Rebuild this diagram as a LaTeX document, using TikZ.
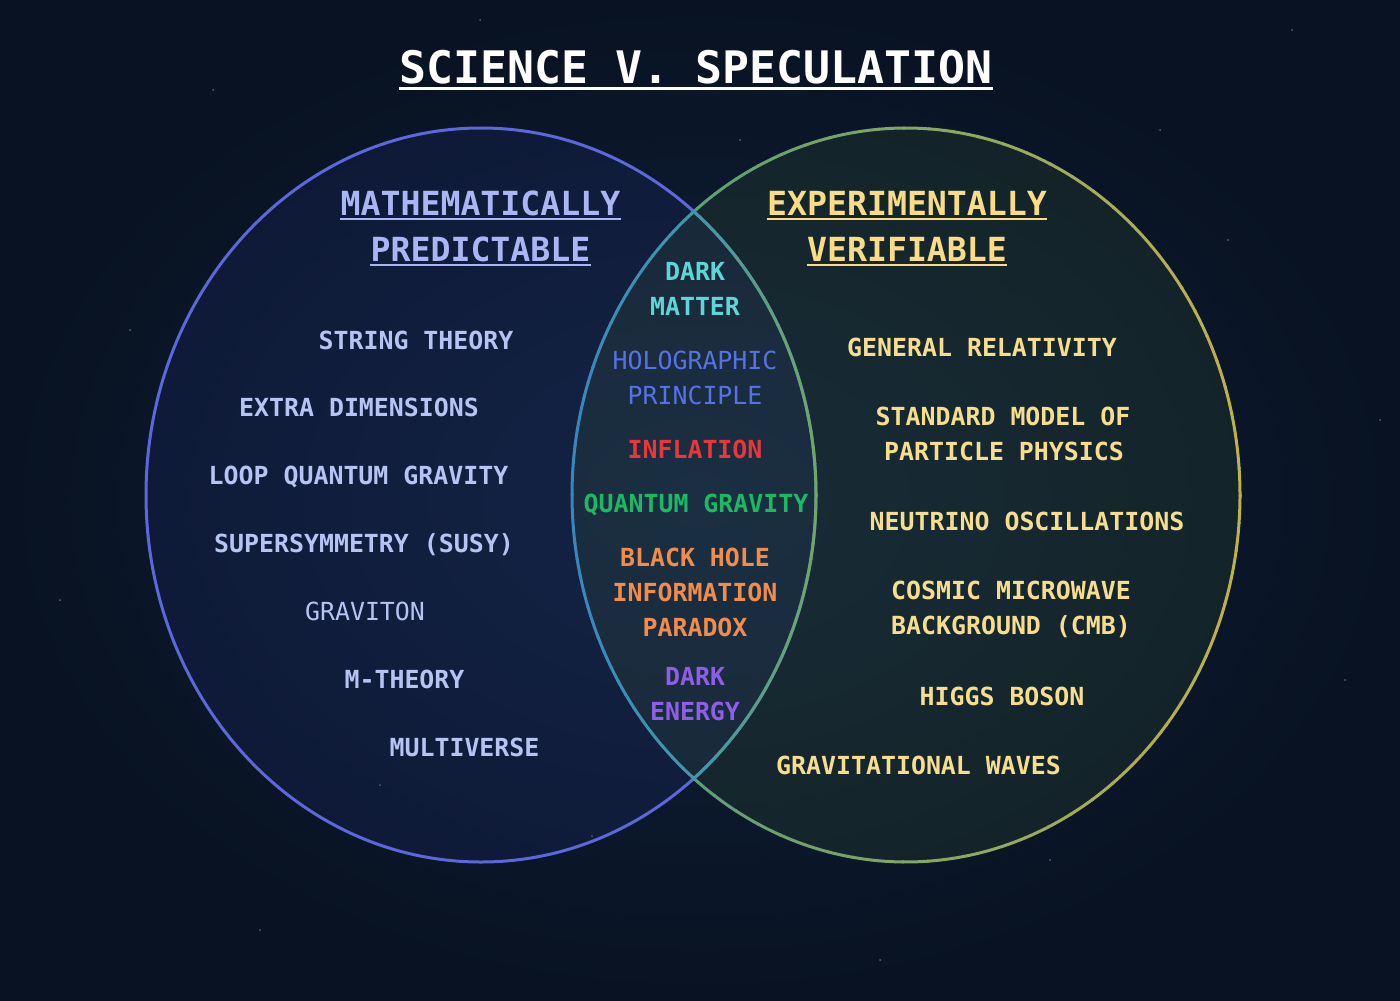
\documentclass[tikz,border=0pt]{standalone}
\usepackage{fontspec}
\setmonofont{DejaVu Sans Mono}
\definecolor{bgin}{HTML}{11213A}
\definecolor{bgout}{HTML}{081222}
\definecolor{leftring}{HTML}{5B67DA}
\definecolor{lensRmid}{HTML}{6FA862}
\definecolor{lensRend}{HTML}{3F96A8}
\definecolor{rightnear}{HTML}{5E9E74}
\definecolor{rightfar}{HTML}{BDB24C}
\definecolor{lensLmid}{HTML}{3C84BC}
\definecolor{lensLend}{HTML}{3F9AA8}
\definecolor{leftfill}{HTML}{22307A}
\definecolor{rightfill}{HTML}{3A5E34}
\definecolor{lefttxt}{HTML}{B7C3F2}
\definecolor{lefthead}{HTML}{AAB5F4}
\definecolor{righttxt}{HTML}{F6DE8E}
\definecolor{righthead}{HTML}{F8DC86}
\definecolor{cdm}{HTML}{5CD6D6}
\definecolor{cholo}{HTML}{5572E6}
\definecolor{cinf}{HTML}{E8363C}
\definecolor{cqg}{HTML}{1DB862}
\definecolor{cbh}{HTML}{F08C4E}
\definecolor{cde}{HTML}{8E5FE6}
\newcommand{\vbody}{\ttfamily\bfseries\fontsize{12.45pt}{15pt}\selectfont}
\newcommand{\vreg}{\ttfamily\fontsize{12.45pt}{15pt}\selectfont}
\newcommand{\vhead}{\ttfamily\bfseries\fontsize{16.6pt}{20pt}\selectfont}
\newcommand{\vtitle}{\ttfamily\bfseries\fontsize{22.4pt}{26pt}\selectfont}
\tikzset{
  lbl/.style={inner sep=0pt, anchor=base, font=\vbody},
  lreg/.style={inner sep=0pt, anchor=base, font=\vreg},
  hd/.style={inner sep=0pt, anchor=base, font=\vhead},
  ring/.style={line width=1.5pt, line cap=round},
  ulline/.style={line width=1pt},
}
\begin{document}
\begin{tikzpicture}[x=0.5pt,y=-0.5pt]
\useasboundingbox (0,0) rectangle (1400,1000);
% background
\shade[inner color=bgin, outer color=bgout] (0,0) rectangle (1400,1000);
% faint stars
\foreach \sx/\sy in {213/90,1292/30,1228/240,1345/680,130/330,380/785,592/836,1050/860,260/930,1160/130,60/600,880/960,1380/420,480/20,740/140}{
  \fill[white, opacity=0.35] (\sx,\sy) circle (0.5pt);
}
% fills
\fill[leftfill, fill opacity=0.2] (481,495) ellipse [x radius=335, y radius=367];
\fill[rightfill, fill opacity=0.2] (906,495) ellipse [x radius=334, y radius=367];
% left circle outline
\draw[ring, leftring] (481,495) ellipse [x radius=335, y radius=367];
% right circle outline (outside lens) gradient
\foreach \i in {0,...,59}{
  \pgfmathsetmacro\ta{-129.2+\i*4.3067}
  \pgfmathsetmacro\xx{906+334*cos(\ta+2.15)}
  \pgfmathsetmacro\m{max(0,min(100,(\xx-695)/5.45))}
  \draw[ring, draw=rightfar!\m!rightnear] ({906+334*cos(\ta)},{495+367*sin(\ta)}) arc[start angle=\ta, delta angle=4.5, x radius=334, y radius=367];
}
% right circle outline inside lens
\foreach \i in {0,...,39}{
  \pgfmathsetmacro\ta{129.2+\i*2.54}
  \pgfmathsetmacro\xx{906+334*cos(\ta+1.27)}
  \pgfmathsetmacro\m{max(0,min(100,(695-\xx)/1.23))}
  \draw[ring, draw=lensLmid!\m!lensLend] ({906+334*cos(\ta)},{495+367*sin(\ta)}) arc[start angle=\ta, delta angle=2.7, x radius=334, y radius=367];
}
% left circle outline inside lens
\foreach \i in {0,...,39}{
  \pgfmathsetmacro\ta{-50.3+\i*2.515}
  \pgfmathsetmacro\xx{481+335*cos(\ta+1.26)}
  \pgfmathsetmacro\m{max(0,min(100,(\xx-695)/1.21))}
  \draw[ring, draw=lensRmid!\m!lensRend] ({481+335*cos(\ta)},{495+367*sin(\ta)}) arc[start angle=\ta, delta angle=2.7, x radius=335, y radius=367];
}
% title
\node[inner sep=0pt, anchor=base, font=\vtitle, text=white] (title) at (696,84) {SCIENCE V. SPECULATION};
\draw[line width=1.5pt, white] ([yshift=-2.2pt]title.base west) -- ([yshift=-2.2pt]title.base east);
% headings
\node[hd, text=lefthead] (h1) at (480.5,215) {MATHEMATICALLY};
\node[hd, text=lefthead] (h2) at (480.5,261) {PREDICTABLE};
\node[hd, text=righthead] (h3) at (907,215) {EXPERIMENTALLY};
\node[hd, text=righthead] (h4) at (907,261) {VERIFIABLE};
\foreach \h/\c in {h1/lefthead,h2/lefthead,h3/righthead,h4/righthead}{
  \draw[ulline, \c] ([yshift=-2.2pt]\h.base west) -- ([yshift=-2.2pt]\h.base east);
}
% left items
\node[lbl, text=lefttxt] (l1) at (416,349) {STRING THEORY};
\node[lbl, text=lefttxt] (l2) at (359,416) {EXTRA DIMENSIONS};
\node[lbl, text=lefttxt] (l3) at (358.5,484) {LOOP QUANTUM GRAVITY};
\node[lbl, text=lefttxt] (l4) at (364,552) {SUPERSYMMETRY (SUSY)};
\node[lreg, text=lefttxt] (l5) at (365,620) {GRAVITON};
\node[lbl, text=lefttxt] (l6) at (404.5,688) {M-THEORY};
\node[lbl, text=lefttxt] (l7) at (464.5,756) {MULTIVERSE};
% middle items
\node[lbl, text=cdm] (m1a) at (695,280) {DARK};
\node[lbl, text=cdm] (m1b) at (695,315) {MATTER};
\node[lreg, text=cholo] (m2a) at (695,369) {HOLOGRAPHIC};
\node[lreg, text=cholo] (m2b) at (695,404) {PRINCIPLE};
\node[lbl, text=cinf] (m3) at (695,458) {INFLATION};
\node[lbl, text=cqg] (m4) at (696,512) {QUANTUM GRAVITY};
\node[lbl, text=cbh] (m5a) at (695,566) {BLACK HOLE};
\node[lbl, text=cbh] (m5b) at (695,601) {INFORMATION};
\node[lbl, text=cbh] (m5c) at (695,636) {PARADOX};
\node[lbl, text=cde] (m6a) at (695,685) {DARK};
\node[lbl, text=cde] (m6b) at (695,720) {ENERGY};
% right items
\node[lbl, text=righttxt] (r1) at (982,356) {GENERAL RELATIVITY};
\node[lbl, text=righttxt] (r2a) at (1003,425) {STANDARD MODEL OF};
\node[lbl, text=righttxt] (r2b) at (1004,460) {PARTICLE PHYSICS};
\node[lbl, text=righttxt] (r3) at (1027,530) {NEUTRINO OSCILLATIONS};
\node[lbl, text=righttxt] (r4a) at (1011,599) {COSMIC MICROWAVE};
\node[lbl, text=righttxt] (r4b) at (1011,634) {BACKGROUND (CMB)};
\node[lbl, text=righttxt] (r5) at (1002,705) {HIGGS BOSON};
\node[lbl, text=righttxt] (r6) at (918.5,774) {GRAVITATIONAL WAVES};
\end{tikzpicture}
\end{document}
